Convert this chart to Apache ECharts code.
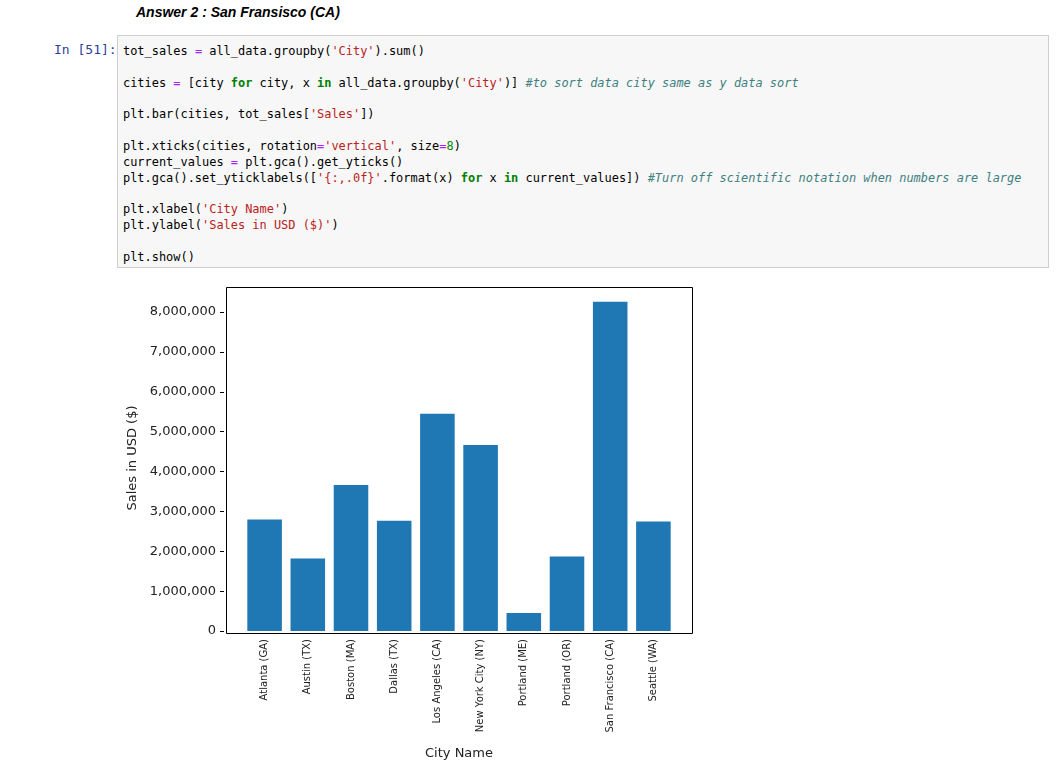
<!DOCTYPE html>
<html><head><meta charset="utf-8">
<script src="https://cdn.jsdelivr.net/npm/echarts@6/dist/echarts.min.js"></script>
<style>
body{margin:0;background:#fff;width:1062px;height:770px;overflow:hidden;position:relative;font-family:"DejaVu Sans",sans-serif}
#title{position:absolute;left:136px;top:4px;font:italic bold 14px "Liberation Sans",Arial,sans-serif;color:#000}
#prompt{position:absolute;left:54px;top:42px;font:13px "DejaVu Sans Mono",monospace;color:#303f9f}
#code{position:absolute;left:117px;top:35px;width:932px;height:233px;background:#f7f7f7;border:1px solid #cfcfcf;box-sizing:border-box;padding:8px 5px;margin:0;font:11.95px/15.85px "DejaVu Sans Mono",monospace;color:#000;white-space:pre}
.s{color:#ba2121}.k{color:#008000;font-weight:bold}.c{color:#408080;font-style:italic}.o{color:#aa22ff}.n{color:#080}
#chart{position:absolute;left:100px;top:278px;width:620px;height:492px}
</style></head><body>
<div id="title">Answer 2 : San Fransisco (CA)</div>
<div id="prompt">In [51]:</div>
<pre id="code">tot_sales <span class="o">=</span> all_data.groupby(<span class="s">'City'</span>).sum()

cities <span class="o">=</span> [city <span class="k">for</span> city, x <span class="k">in</span> all_data.groupby(<span class="s">'City'</span>)] <span class="c">#to sort data city same as y data sort</span>

plt.bar(cities, tot_sales[<span class="s">'Sales'</span>])

plt.xticks(cities, rotation<span class="o">=</span><span class="s">'vertical'</span>, size<span class="o">=</span><span class="n">8</span>)
current_values <span class="o">=</span> plt.gca().get_yticks()
plt.gca().set_yticklabels([<span class="s">'{:,.0f}'</span>.format(x) <span class="k">for</span> x <span class="k">in</span> current_values]) <span class="c">#Turn off scientific notation when numbers are large</span>

plt.xlabel(<span class="s">'City Name'</span>)
plt.ylabel(<span class="s">'Sales in USD ($)'</span>)

plt.show()</pre>
<div id="chart"></div>
<script>
const cities = ["Atlanta (GA)","Austin (TX)","Boston (MA)","Dallas (TX)","Los Angeles (CA)","New York City (NY)","Portland (ME)","Portland (OR)","San Francisco (CA)","Seattle (WA)"];
const sales = [2795000,1819000,3661000,2767000,5452000,4665000,449000,1871000,8262000,2747000];
const yTickStep = 1000000;

const chart = echarts.init(document.getElementById('chart'));
const txt = {color:'#222',fontFamily:'DejaVu Sans',fontSize:12};
chart.setOption({
  animation:false,
  grid:{left:143,top:7,width:432,height:346},
  xAxis:{type:'category',data:cities,name:'City Name',nameLocation:'middle',nameGap:116,
    nameTextStyle:Object.assign({},txt,{fontSize:13}),
    axisLine:{show:false},axisTick:{alignWithLabel:true,length:4,lineStyle:{color:'#000'}},
    axisLabel:Object.assign({},txt,{fontSize:10,rotate:90,margin:8})},
  yAxis:{type:'value',min:0,max:8680000,interval:yTickStep,offset:19,name:'Sales in USD ($)',nameLocation:'middle',nameGap:77,
    nameTextStyle:Object.assign({},txt,{fontSize:13}),
    splitLine:{show:false},axisLine:{show:false},axisTick:{show:true,length:4,lineStyle:{color:'#000'}},
    axisLabel:Object.assign({},txt,{fontSize:13,margin:8,showMaxLabel:false,formatter:v=>v.toLocaleString('en-US')})},
  series:[{type:'bar',data:sales,barCategoryGap:'20%',itemStyle:{color:'#1f77b4'}}],
  graphic:[{type:'rect',left:124,top:7,shape:{width:466,height:346},style:{fill:'none',stroke:'#000',lineWidth:1},silent:true,z:100}]
});
</script>
</body></html>
